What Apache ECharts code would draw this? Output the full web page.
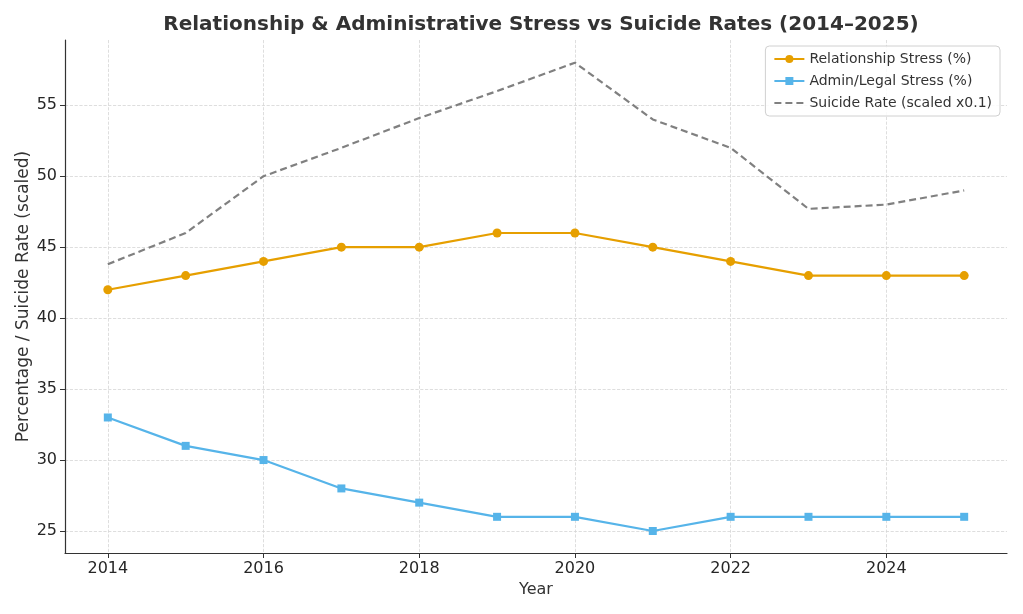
<!DOCTYPE html>
<html>
<head>
<meta charset="utf-8">
<script src="https://cdn.jsdelivr.net/npm/echarts@6/dist/echarts.min.js"></script>
<style>
  html, body { margin: 0; padding: 0; background: #fff; }
  #chart { width: 1023px; height: 614px; }
</style>
</head>
<body>
<div id="chart"></div>
<script>
const years = [2014, 2015, 2016, 2017, 2018, 2019, 2020, 2021, 2022, 2023, 2024, 2025];
const relationshipStress = [42, 43, 44, 45, 45, 46, 46, 45, 44, 43, 43, 43];
const adminStress = [33, 31, 30, 28, 27, 26, 26, 25, 26, 26, 26, 26];
const suicideScaled = [43.8, 46, 50, 52, 54.1, 56, 58, 54, 52, 47.7, 48, 49];
const xTicks = [2014, 2016, 2018, 2020, 2022, 2024];
const yTicks = [25, 30, 35, 40, 45, 50, 55];

const font = "DejaVu Sans";
const pair = (vals) => years.map((y, i) => [y, vals[i]]);

const chart = echarts.init(document.getElementById("chart"));

const option = {
  backgroundColor: "#fff",
  animation: false,
  title: {
    text: "Relationship & Administrative Stress vs Suicide Rates (2014\u20132025)",
    left: 536,
    textAlign: "center",
    top: 10,
    textStyle: { fontFamily: font, fontSize: 20, fontWeight: "bold", color: "#333" },
  },
  legend: {
    orient: "vertical",
    right: 23,
    top: 46,
    itemWidth: 30,
    itemHeight: 10,
    itemGap: 8,
    padding: [6, 8, 6, 8],
    borderColor: "#d0d0d0",
    borderWidth: 1,
    borderRadius: 4,
    backgroundColor: "rgba(255,255,255,0.85)",
    textStyle: { fontFamily: font, fontSize: 14, color: "#333" },
    data: [
      "Relationship Stress (%)",
      "Admin/Legal Stress (%)",
      { name: "Suicide Rate (scaled x0.1)", itemStyle: { opacity: 0 } },
    ],
  },
  grid: { left: 65, right: 16, top: 40, bottom: 61 },
  xAxis: {
    type: "value",
    min: 2013.45,
    max: 2025.55,
    name: "Year",
    nameLocation: "middle",
    nameGap: 27,
    nameTextStyle: { fontFamily: font, fontSize: 16, color: "#333" },
    axisLine: { onZero: false, lineStyle: { color: "#333", width: 1.2 } },
    axisTick: { show: true, length: 5, customValues: xTicks, lineStyle: { color: "#333" } },
    axisLabel: {
      customValues: xTicks,
      formatter: (v) => String(v),
      fontFamily: font, fontSize: 16, color: "#262626", margin: 8,
    },
    splitLine: { show: true, lineStyle: { color: "#d5d5d5", type: "dashed", width: 0.8 } },
  },
  yAxis: {
    type: "value",
    min: 23.45,
    max: 59.6,
    name: "Percentage / Suicide Rate (scaled)",
    nameLocation: "middle",
    nameGap: 33,
    nameMoveOverlap: false,
    nameTextStyle: { fontFamily: font, fontSize: 17, color: "#333" },
    axisLine: { show: true, onZero: false, lineStyle: { color: "#333", width: 1.2 } },
    axisTick: { show: true, length: 5, customValues: yTicks, lineStyle: { color: "#333" } },
    axisLabel: {
      customValues: yTicks,
      formatter: (v) => String(v),
      fontFamily: font, fontSize: 16, color: "#262626", margin: 8,
    },
    splitLine: { show: true, lineStyle: { color: "#d5d5d5", type: "dashed", width: 0.8 } },
  },
  series: [
    {
      name: "Relationship Stress (%)",
      type: "line",
      data: pair(relationshipStress),
      symbol: "circle",
      symbolSize: 9,
      lineStyle: { color: "#E69F00", width: 2.2 },
      itemStyle: { color: "#E69F00" },
    },
    {
      name: "Admin/Legal Stress (%)",
      type: "line",
      data: pair(adminStress),
      symbol: "rect",
      symbolSize: 8,
      lineStyle: { color: "#56B4E9", width: 2.2 },
      itemStyle: { color: "#56B4E9" },
    },
    {
      name: "Suicide Rate (scaled x0.1)",
      type: "line",
      data: pair(suicideScaled),
      showSymbol: false,
      symbol: "none",
      lineStyle: { color: "#808080", width: 2.2, type: [7, 4] },
      itemStyle: { color: "#808080" },
    },
  ],
};

chart.setOption(option);
</script>
</body>
</html>
